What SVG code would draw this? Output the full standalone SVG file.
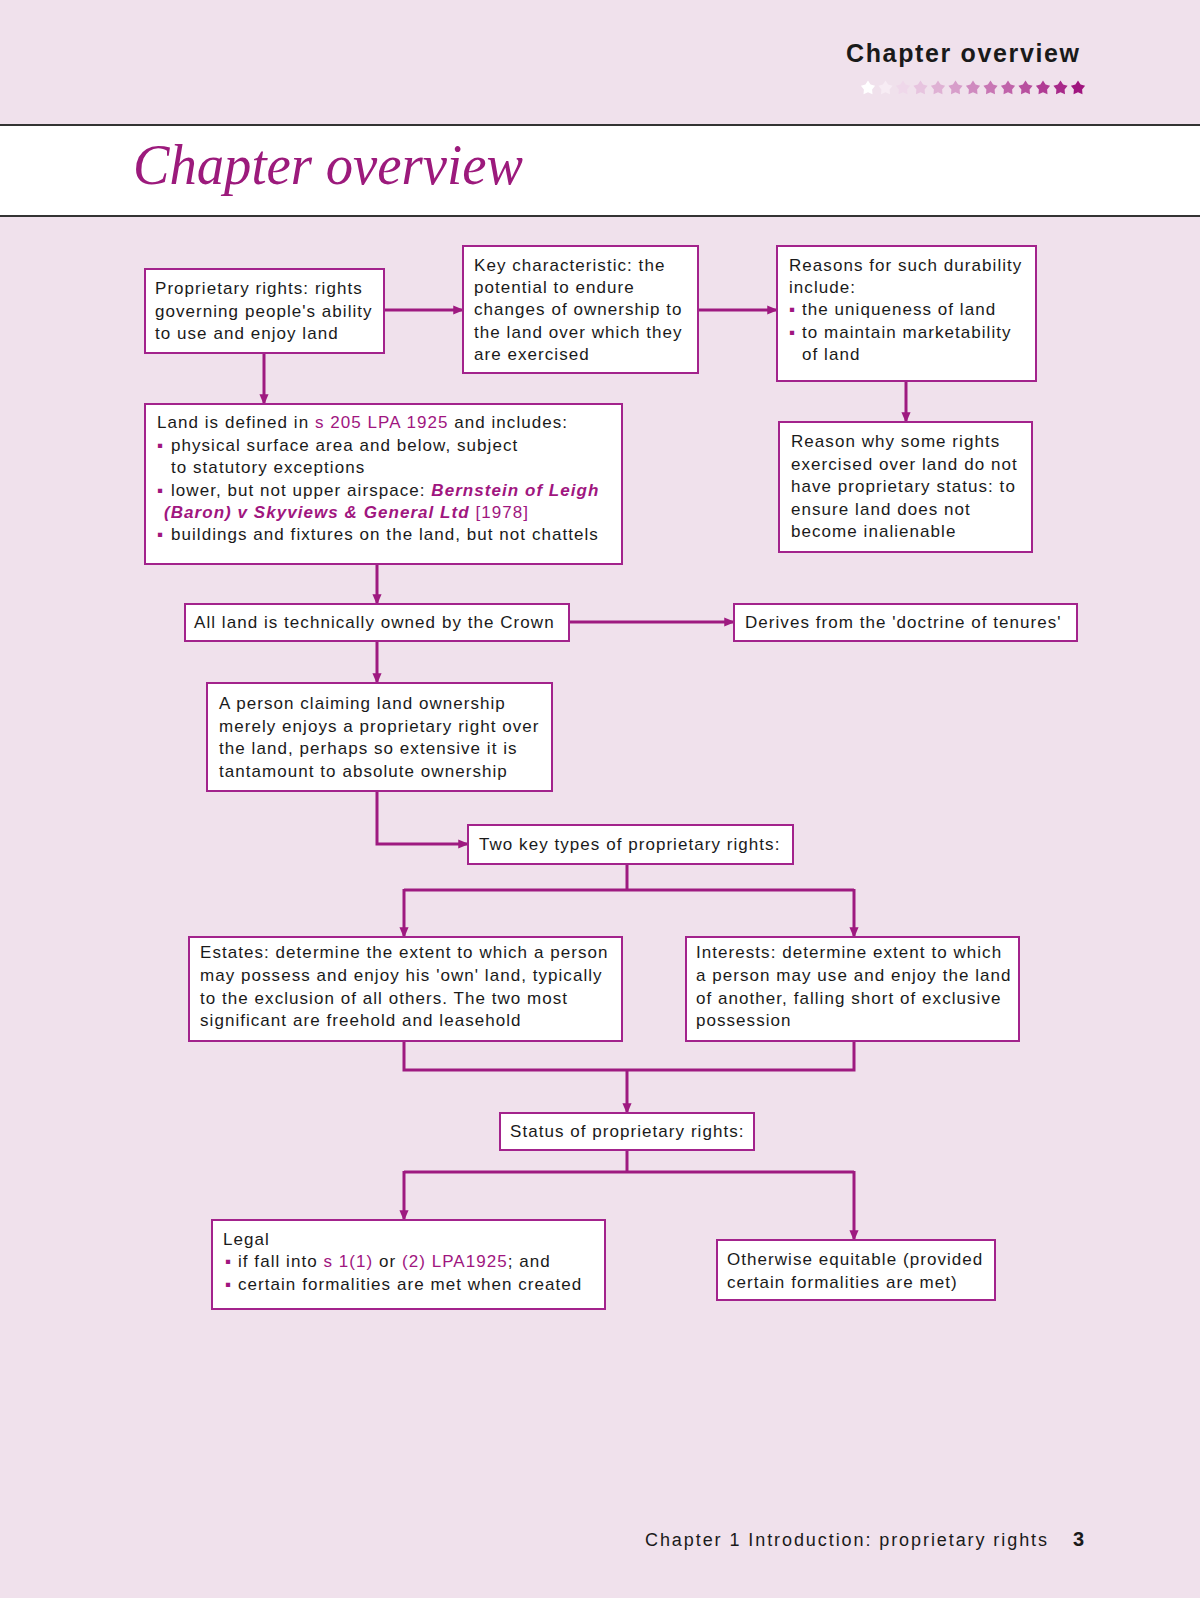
<svg xmlns="http://www.w3.org/2000/svg" width="1200" height="1598" viewBox="0 0 1200 1598">
<style>
.bg{fill:#f0e1ec}
.box{fill:#ffffff;stroke:#a3238c;stroke-width:2}
.t{font-family:"Liberation Sans",Arial,sans-serif;font-size:17px;letter-spacing:1.05px;fill:#1a1a1a}
.m{fill:#a0167f}
.bi{fill:#a0167f;font-weight:bold;font-style:italic}
.b{fill:#a0167f}
.c{fill:none;stroke:#9e1a80;stroke-width:3}
.ca{fill:none;stroke:#9e1a80;stroke-width:3;marker-end:url(#ah)}
</style>
<defs>
<marker id="ah" viewBox="0 0 10 10" refX="9" refY="5" markerWidth="3.6" markerHeight="3.6" orient="auto" markerUnits="strokeWidth">
<path d="M0,0.8 L10,5 L0,9.2 z" fill="#9e1a80"/>
</marker>
<polygon id="star" points="0,-7.5 2.6,-3.4 7.1,-2.3 4.1,1.4 4.5,6.3 0,4.2 -4.5,6.3 -4.1,1.4 -7.1,-2.3 -2.6,-3.4"/>
</defs>
<rect class="bg" x="0" y="0" width="1200" height="1598"/>
<g id="header">
<text x="846" y="62" font-family="'Liberation Sans',Arial,sans-serif" font-size="25" font-weight="bold" fill="#1a1a1a" textLength="233" lengthAdjust="spacing">Chapter overview</text>
<g>
<use href="#star" x="868" y="88" fill="#ffffff"/>
<use href="#star" x="885.5" y="88" fill="#f7ecf4"/>
<use href="#star" x="903" y="88" fill="#efd8ea"/>
<use href="#star" x="920.5" y="88" fill="#e7c4df"/>
<use href="#star" x="938" y="88" fill="#dfb1d4"/>
<use href="#star" x="955.5" y="88" fill="#d79eca"/>
<use href="#star" x="973" y="88" fill="#cf8abf"/>
<use href="#star" x="990.5" y="88" fill="#c876b4"/>
<use href="#star" x="1008" y="88" fill="#c063aa"/>
<use href="#star" x="1025.5" y="88" fill="#b8509f"/>
<use href="#star" x="1043" y="88" fill="#b03c94"/>
<use href="#star" x="1060.5" y="88" fill="#a8298a"/>
<use href="#star" x="1078" y="88" fill="#a0157f"/>
</g>
<rect x="0" y="125" width="1200" height="91" fill="#ffffff"/>
<line x1="0" y1="125" x2="1200" y2="125" stroke="#333333" stroke-width="2"/>
<line x1="0" y1="216" x2="1200" y2="216" stroke="#333333" stroke-width="2"/>
<text x="133" y="184" font-family="'Liberation Serif','Times New Roman',serif" font-style="italic" font-size="56" fill="#9c1a7c" textLength="390" lengthAdjust="spacingAndGlyphs">Chapter overview</text>
</g>
<g id="connectors">
<path class="ca" d="M384,310 H463"/>
<path class="ca" d="M698,310 H777"/>
<path class="ca" d="M264,353 V404"/>
<path class="ca" d="M906,381 V422"/>
<path class="ca" d="M377,564 V604"/>
<path class="ca" d="M569,622 H734"/>
<path class="ca" d="M377,641 V683"/>
<path class="ca" d="M377,791 V844 H468"/>
<path class="c" d="M627,864 V890"/>
<path class="c" d="M404,890 H854"/>
<path class="ca" d="M404,889 V937"/>
<path class="ca" d="M854,889 V937"/>
<path class="c" d="M404,1041 V1070 H854 V1041"/>
<path class="ca" d="M627,1070 V1113"/>
<path class="c" d="M627,1150 V1172"/>
<path class="c" d="M404,1172 H854"/>
<path class="ca" d="M404,1171 V1220"/>
<path class="ca" d="M854,1171 V1240"/>
</g>
<g id="n1">
<rect class="box" x="145" y="269" width="239" height="84"/>
<text class="t"><tspan x="155" y="294">Proprietary rights: rights</tspan><tspan x="155" y="316.5">governing people's ability</tspan><tspan x="155" y="339">to use and enjoy land</tspan></text>
</g>
<g id="n2">
<rect class="box" x="463" y="246" width="235" height="127"/>
<text class="t"><tspan x="474" y="271">Key characteristic: the</tspan><tspan x="474" y="293">potential to endure</tspan><tspan x="474" y="315">changes of ownership to</tspan><tspan x="474" y="338">the land over which they</tspan><tspan x="474" y="360">are exercised</tspan></text>
</g>
<g id="n3">
<rect class="box" x="777" y="246" width="259" height="135"/>
<text class="t"><tspan x="789" y="271">Reasons for such durability</tspan><tspan x="789" y="293">include:</tspan><tspan x="789" y="315" class="b">▪</tspan><tspan x="802" y="315">the uniqueness of land</tspan><tspan x="789" y="338" class="b">▪</tspan><tspan x="802" y="338">to maintain marketability</tspan><tspan x="802" y="360">of land</tspan></text>
</g>
<g id="n4">
<rect class="box" x="779" y="422" width="253" height="130"/>
<text class="t"><tspan x="791" y="447">Reason why some rights</tspan><tspan x="791" y="469.5">exercised over land do not</tspan><tspan x="791" y="492">have proprietary status: to</tspan><tspan x="791" y="514.5">ensure land does not</tspan><tspan x="791" y="537">become inalienable</tspan></text>
</g>
<g id="n5">
<rect class="box" x="145" y="404" width="477" height="160"/>
<text class="t"><tspan x="157" y="428">Land is defined in <tspan class="m">s 205 LPA 1925</tspan> and includes:</tspan><tspan x="157" y="450.5" class="b">▪</tspan><tspan x="171" y="450.5">physical surface area and below, subject</tspan><tspan x="171" y="472.5">to statutory exceptions</tspan><tspan x="157" y="495.5" class="b">▪</tspan><tspan x="171" y="495.5">lower, but not upper airspace: <tspan class="bi">Bernstein of Leigh</tspan></tspan><tspan x="164" y="518"><tspan class="bi">(Baron) v Skyviews &amp; General Ltd</tspan><tspan class="m"> [1978]</tspan></tspan><tspan x="157" y="540" class="b">▪</tspan><tspan x="171" y="540">buildings and fixtures on the land, but not chattels</tspan></text>
</g>
<g id="n6">
<rect class="box" x="185" y="604" width="384" height="37"/>
<text class="t" x="194" y="627.5">All land is technically owned by the Crown</text>
</g>
<g id="n7">
<rect class="box" x="734" y="604" width="343" height="37"/>
<text class="t" x="745" y="627.5">Derives from the 'doctrine of tenures'</text>
</g>
<g id="n8">
<rect class="box" x="207" y="683" width="345" height="108"/>
<text class="t"><tspan x="219" y="709">A person claiming land ownership</tspan><tspan x="219" y="731.5">merely enjoys a proprietary right over</tspan><tspan x="219" y="754">the land, perhaps so extensive it is</tspan><tspan x="219" y="777">tantamount to absolute ownership</tspan></text>
</g>
<g id="n9">
<rect class="box" x="468" y="825" width="325" height="39"/>
<text class="t" x="479" y="850">Two key types of proprietary rights:</text>
</g>
<g id="n10">
<rect class="box" x="189" y="937" width="433" height="104"/>
<text class="t"><tspan x="200" y="958">Estates: determine the extent to which a person</tspan><tspan x="200" y="981">may possess and enjoy his 'own' land, typically</tspan><tspan x="200" y="1003.5">to the exclusion of all others. The two most</tspan><tspan x="200" y="1026">significant are freehold and leasehold</tspan></text>
</g>
<g id="n11">
<rect class="box" x="686" y="937" width="333" height="104"/>
<text class="t"><tspan x="696" y="958">Interests: determine extent to which</tspan><tspan x="696" y="981">a person may use and enjoy the land</tspan><tspan x="696" y="1003.5">of another, falling short of exclusive</tspan><tspan x="696" y="1026">possession</tspan></text>
</g>
<g id="n12">
<rect class="box" x="500" y="1113" width="254" height="37"/>
<text class="t" x="510" y="1137">Status of proprietary rights:</text>
</g>
<g id="n13">
<rect class="box" x="212" y="1220" width="393" height="89"/>
<text class="t"><tspan x="223" y="1245">Legal</tspan><tspan x="225" y="1267" class="b">▪</tspan><tspan x="238" y="1267">if fall into <tspan class="m">s 1(1)</tspan> or <tspan class="m">(2) LPA1925</tspan>; and</tspan><tspan x="225" y="1290" class="b">▪</tspan><tspan x="238" y="1290">certain formalities are met when created</tspan></text>
</g>
<g id="n14">
<rect class="box" x="717" y="1240" width="278" height="60"/>
<text class="t"><tspan x="727" y="1265">Otherwise equitable (provided</tspan><tspan x="727" y="1288">certain formalities are met)</tspan></text>
</g>
<g id="footer">
<text x="645" y="1546" font-family="'Liberation Sans',Arial,sans-serif" font-size="18" fill="#1a1a1a" textLength="402" lengthAdjust="spacing">Chapter 1  Introduction: proprietary rights</text>
<text x="1073" y="1546" font-family="'Liberation Sans',Arial,sans-serif" font-size="20" font-weight="bold" fill="#1a1a1a">3</text>
</g>
</svg>
